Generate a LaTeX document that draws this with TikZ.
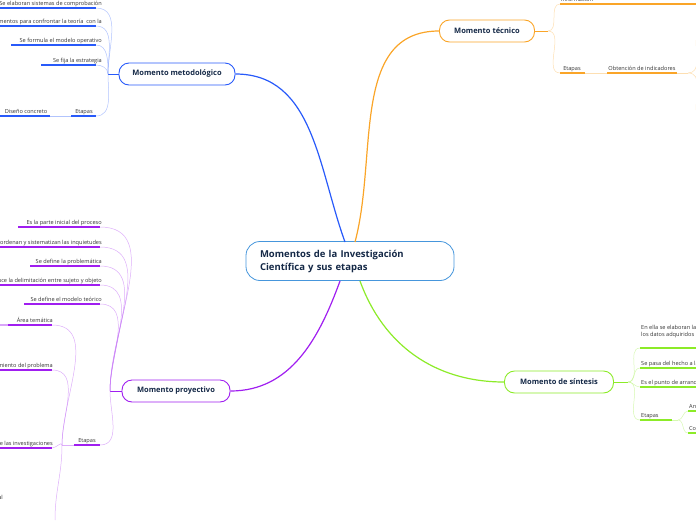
\documentclass[tikz,border=0pt]{standalone}
\usepackage{fontspec}
\setmainfont{Open Sans}
\usetikzlibrary{positioning}

\definecolor{navy}{RGB}{20,40,70}
\definecolor{mblue}{RGB}{40,90,250}
\definecolor{morange}{RGB}{250,165,40}
\definecolor{mpurple}{RGB}{160,30,240}
\definecolor{mgreen}{RGB}{140,235,40}
\definecolor{cblue}{RGB}{70,150,220}

\tikzset{
  topic/.style={draw, rounded corners=10pt, line width=0.9pt, fill=white,
    font=\bfseries\fontsize{7.5}{9}\selectfont, text=navy, minimum height=22pt, inner xsep=10pt},
  leaf/.style={font=\fontsize{5.6}{7}\selectfont, text=black!80, inner sep=1pt},
  uline/.style={line width=1.3pt},
  twig/.style={line width=0.5pt, opacity=0.6},
}

\begin{document}
\begin{tikzpicture}[x=1pt,y=-1pt]
\useasboundingbox (0,0) rectangle (696,520);
\clip (0,0) rectangle (696,520);

% centre
\node[draw=cblue, line width=0.8pt, rounded corners=14pt, minimum width=208pt, minimum height=39pt,
  text width=180pt, align=left, font=\bfseries\fontsize{9.5}{13}\selectfont, text=navy]
  (root) at (350,261) {Momentos de la Investigación\\Científica y sus etapas};

% main topics
\node[topic, draw=mblue, minimum width=116pt] (met) at (177,74) {Momento metodológico};
\node[topic, draw=morange, minimum width=95pt] (tec) at (487,31) {Momento técnico};
\node[topic, draw=mpurple, minimum width=108pt] (pro) at (176,391) {Momento proyectivo};
\node[topic, draw=mgreen, minimum width=109pt] (sin) at (559,382) {Momento de síntesis};

\draw[mblue, line width=1.2pt] (345,242) to[out=110,in=0] (met.east);
\draw[morange, line width=1.2pt] (355,242) to[out=75,in=180] (tec.west);
\draw[mpurple, line width=1.2pt] (340,281) to[out=250,in=0] (pro.east);
\draw[mgreen, line width=1.2pt] (360,281) to[out=290,in=180] (sin.west);

% metodologico
\coordinate (jm) at (108,74);
\draw[mblue, line width=0.8pt] (met.west) -- (jm);
\foreach \t/\y/\a in {{Se elaboran sistemas de comprobación}/8/0, {Se formulan los instrumentos para confrontar la teoría \ con la}/26/0,
    {Se formula el modelo operativo}/45/11, {Se fija la estrategia}/65/41} {
  \node[leaf, anchor=base east] at (103,\y-2.5) {\t};
  \draw[mblue, uline] (\a,\y) -- (96,\y);
  \draw[mblue!60, twig] (96,\y) to[out=0,in=90] (jm);
}
\node[leaf, anchor=base] (etm) at (84,113.5) {Etapas};
\draw[mblue, uline] (71,116) -- (96,116);
\draw[mblue!60, twig] (96,116) to[out=0,in=270] (jm);
\node[leaf, anchor=base] (dis) at (26,113.5) {Diseño concreto};
\draw[mblue, uline] (0,116) -- (50,116);
\draw[mblue!60, twig] (50,116) -- (71,116);

% proyectivo
\coordinate (jp) at (110,391);
\draw[mpurple, line width=0.8pt] (pro.west) -- (jp);
\foreach \t/\y/\a in {{Es la parte inicial del proceso}/227/18, {Se ordenan y sistematizan las inquietudes}/247/0,
    {Se define la problemática}/266/30, {Se produce la delimitación entre sujeto y objeto}/285/0,
    {Se define el modelo teórico}/304/24} {
  \node[leaf, anchor=base east] at (103,\y-2.5) {\t};
  \draw[mpurple, uline] (\a,\y) -- (100,\y);
  \draw[mpurple!60, twig] (100,\y) to[out=0,in=90] (jp);
}
\node[leaf, anchor=base] (etp) at (87,442.5) {Etapas};
\draw[mpurple, uline] (74,445) -- (100,445);
\draw[mpurple!60, twig] (100,445) to[out=0,in=270] (jp);
\coordinate (jq) at (62,445);
\draw[mpurple!60, twig] (74,445) -- (jq);
\foreach \t/\y in {{Área temática}/325, {Planteamiento del problema}/370, {Objetivos de las investigaciones}/448} {
  \node[leaf, anchor=base east] at (54,\y-2.5) {\t};
  \draw[mpurple, uline] (8,\y) -- (52,\y);
  \draw[mpurple!60, twig] (52,\y) to[out=0,in=90] (jq);
}
\draw[mpurple!40, uline] (0,325) -- (8,325);
\draw[mpurple, uline] (0,370) -- (8,370);
\draw[mpurple, uline] (0,448) -- (8,448);
\node[leaf, anchor=base east] at (4,499) {Marco referencial};
\draw[mpurple!60, twig] (jq) to[out=270,in=90] (55,520);

% tecnico
\coordinate (jt) at (548,31);
\draw[morange, line width=0.8pt] (tec.east) -- (jt);
\node[leaf, anchor=base west] at (560,1.5) {Información};
\draw[morange, uline] (560,4) -- (696,4);
\draw[morange!60, twig] (jt) to[out=0,in=180] (560,4);
\node[leaf, anchor=base] (ett) at (572,70.5) {Etapas};
\draw[morange, uline] (560,73) -- (585,73);
\draw[morange!60, twig] (jt) to[out=0,in=180] (560,73);
\node[leaf, anchor=base] (obt) at (642,70.5) {Obtención de indicadores};
\draw[morange, uline] (607,73) -- (677,73);
\draw[morange!60, twig] (585,73) -- (607,73) (677,73) -- (688,73);
\draw[morange!60, twig] (688,73) to[out=0,in=270] (696,40);
\draw[morange!60, twig] (688,73) to[out=0,in=90] (696,110);

% sintesis
\coordinate (js) at (628,382);
\draw[mgreen, line width=0.8pt] (sin.east) -- (js);
\node[leaf, anchor=base west, align=left] at (640,336) {En ella se elaboran las conclusiones con\\los datos adquiridos};
\draw[mgreen, uline] (640,348) -- (696,348);
\draw[mgreen!60, twig] (js) to[out=0,in=180] (640,348);
\foreach \t/\y in {{Se pasa del hecho a la teoría}/368, {Es el punto de arranque}/387} {
  \node[leaf, anchor=base west] at (640,\y-2.5) {\t};
  \draw[mgreen, uline] (640,\y) -- (696,\y);
  \draw[mgreen!60, twig] (js) to[out=0,in=180] (640,\y);
}
\node[leaf, anchor=base west] (ets) at (640,417.5) {Etapas};
\draw[mgreen, uline] (640,420) -- (672,420);
\draw[mgreen!60, twig] (js) to[out=0,in=180] (640,420);
\coordinate (jr) at (678,420);
\draw[mgreen!60, twig] (672,420) -- (jr);
\foreach \t/\y in {{Análisis}/411, {Conclusiones}/433} {
  \node[leaf, anchor=base west] at (688,\y-2.5) {\t};
  \draw[mgreen, uline] (688,\y) -- (696,\y);
  \draw[mgreen!60, twig] (jr) to[out=0,in=180] (688,\y);
}
\end{tikzpicture}
\end{document}
